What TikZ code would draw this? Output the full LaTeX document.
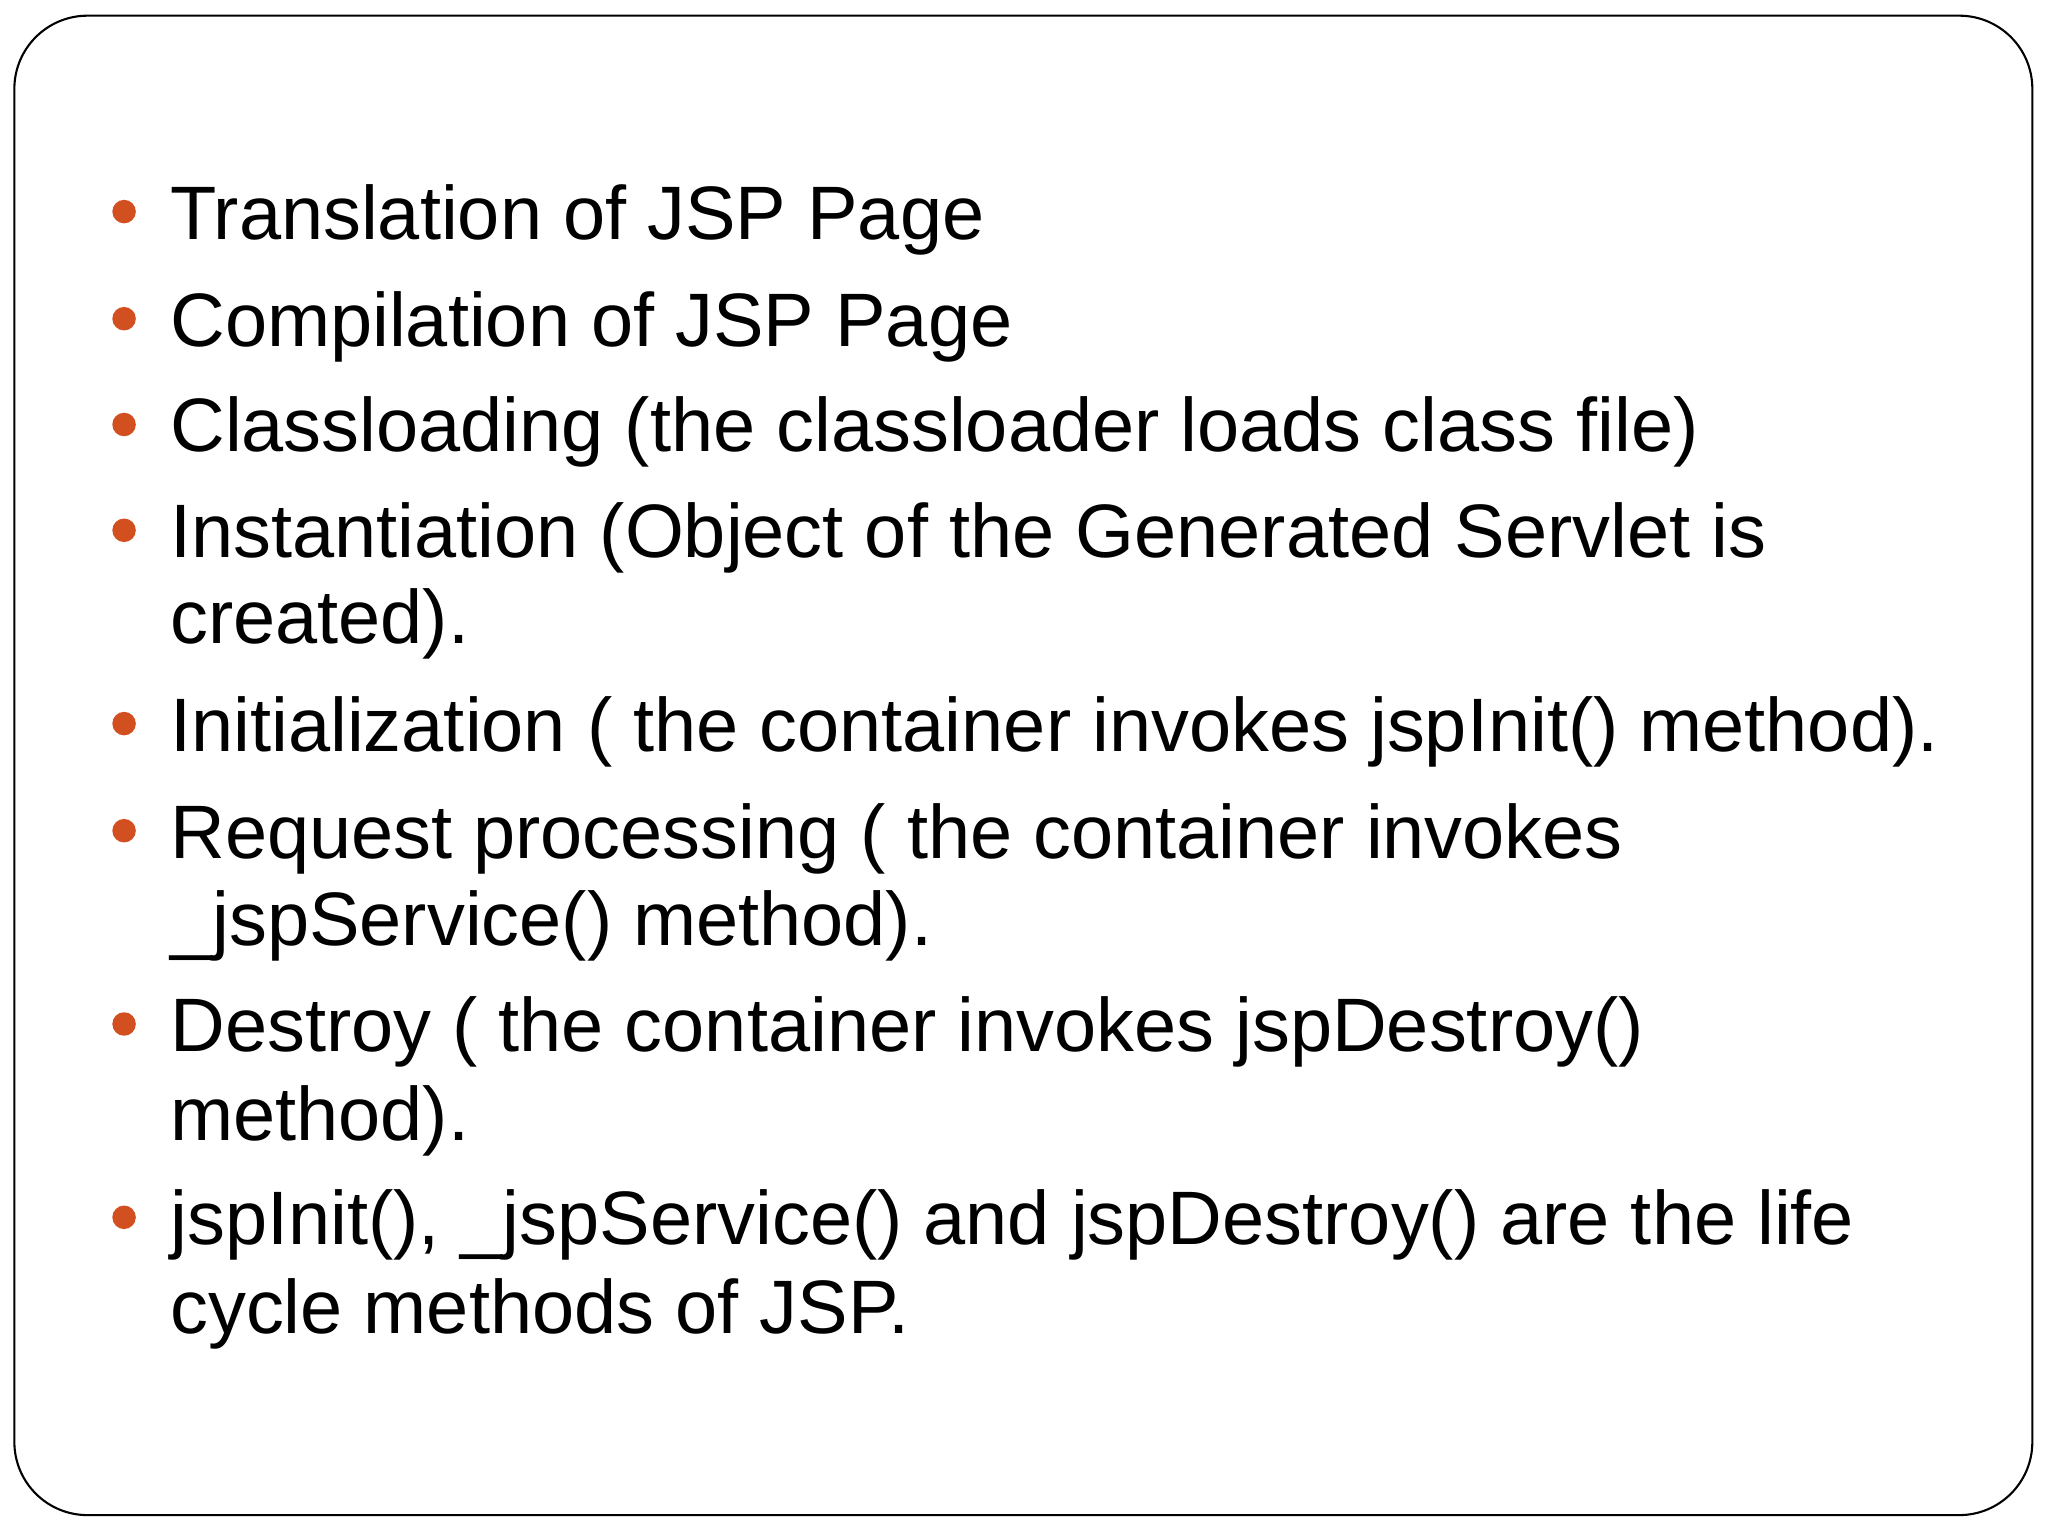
\documentclass[tikz,border=0pt]{standalone}
\usepackage{fontspec}
\setmainfont{Liberation Sans}
\definecolor{bul}{HTML}{D2501F}
\begin{document}
\begin{tikzpicture}[x=0.5pt,y=-0.5pt,
  txt/.style={anchor=base west,inner sep=0pt,font=\fontsize{29}{35}\selectfont},
  bullet/.style={circle,fill=bul,inner sep=0pt,minimum size=9pt}]
\useasboundingbox (0,0) rectangle (1568,1176);
\fill[white] (0,0) rectangle (1568,1176);
\draw[line width=0.8pt,rounded corners=28pt] (11,12) rectangle (1556,1160);
\foreach \y/\n in {162/b1,244/b2,325/b3,406/b4,554/b5,636/b6,784/b7,932/b8}
  \node[bullet] (\n) at (95,\y) {};
\node[txt] (t1) at (130,183) {Translation of JSP Page};
\node[txt] (t2) at (130,265) {Compilation of JSP Page};
\node[txt] (t3) at (130,346) {Classloading (the classloader loads class file)};
\node[txt] (t4) at (130,427) {Instantiation (Object of the Generated Servlet is};
\node[txt] (t4b) at (130,493) {created).};
\node[txt] (t5) at (130,575) {Initialization ( the container invokes jspInit() method).};
\node[txt] (t6) at (130,657) {Request processing ( the container invokes};
\node[txt] (t6b) at (130,724) {\_jspService() method).};
\node[txt] (t7) at (130,805) {Destroy ( the container invokes jspDestroy()};
\node[txt] (t7b) at (130,873) {method).};
\node[txt] (t8) at (130,953) {jspInit(), \_jspService() and jspDestroy() are the life};
\node[txt] (t8b) at (130,1021) {cycle methods of JSP.};
\end{tikzpicture}
\end{document}
